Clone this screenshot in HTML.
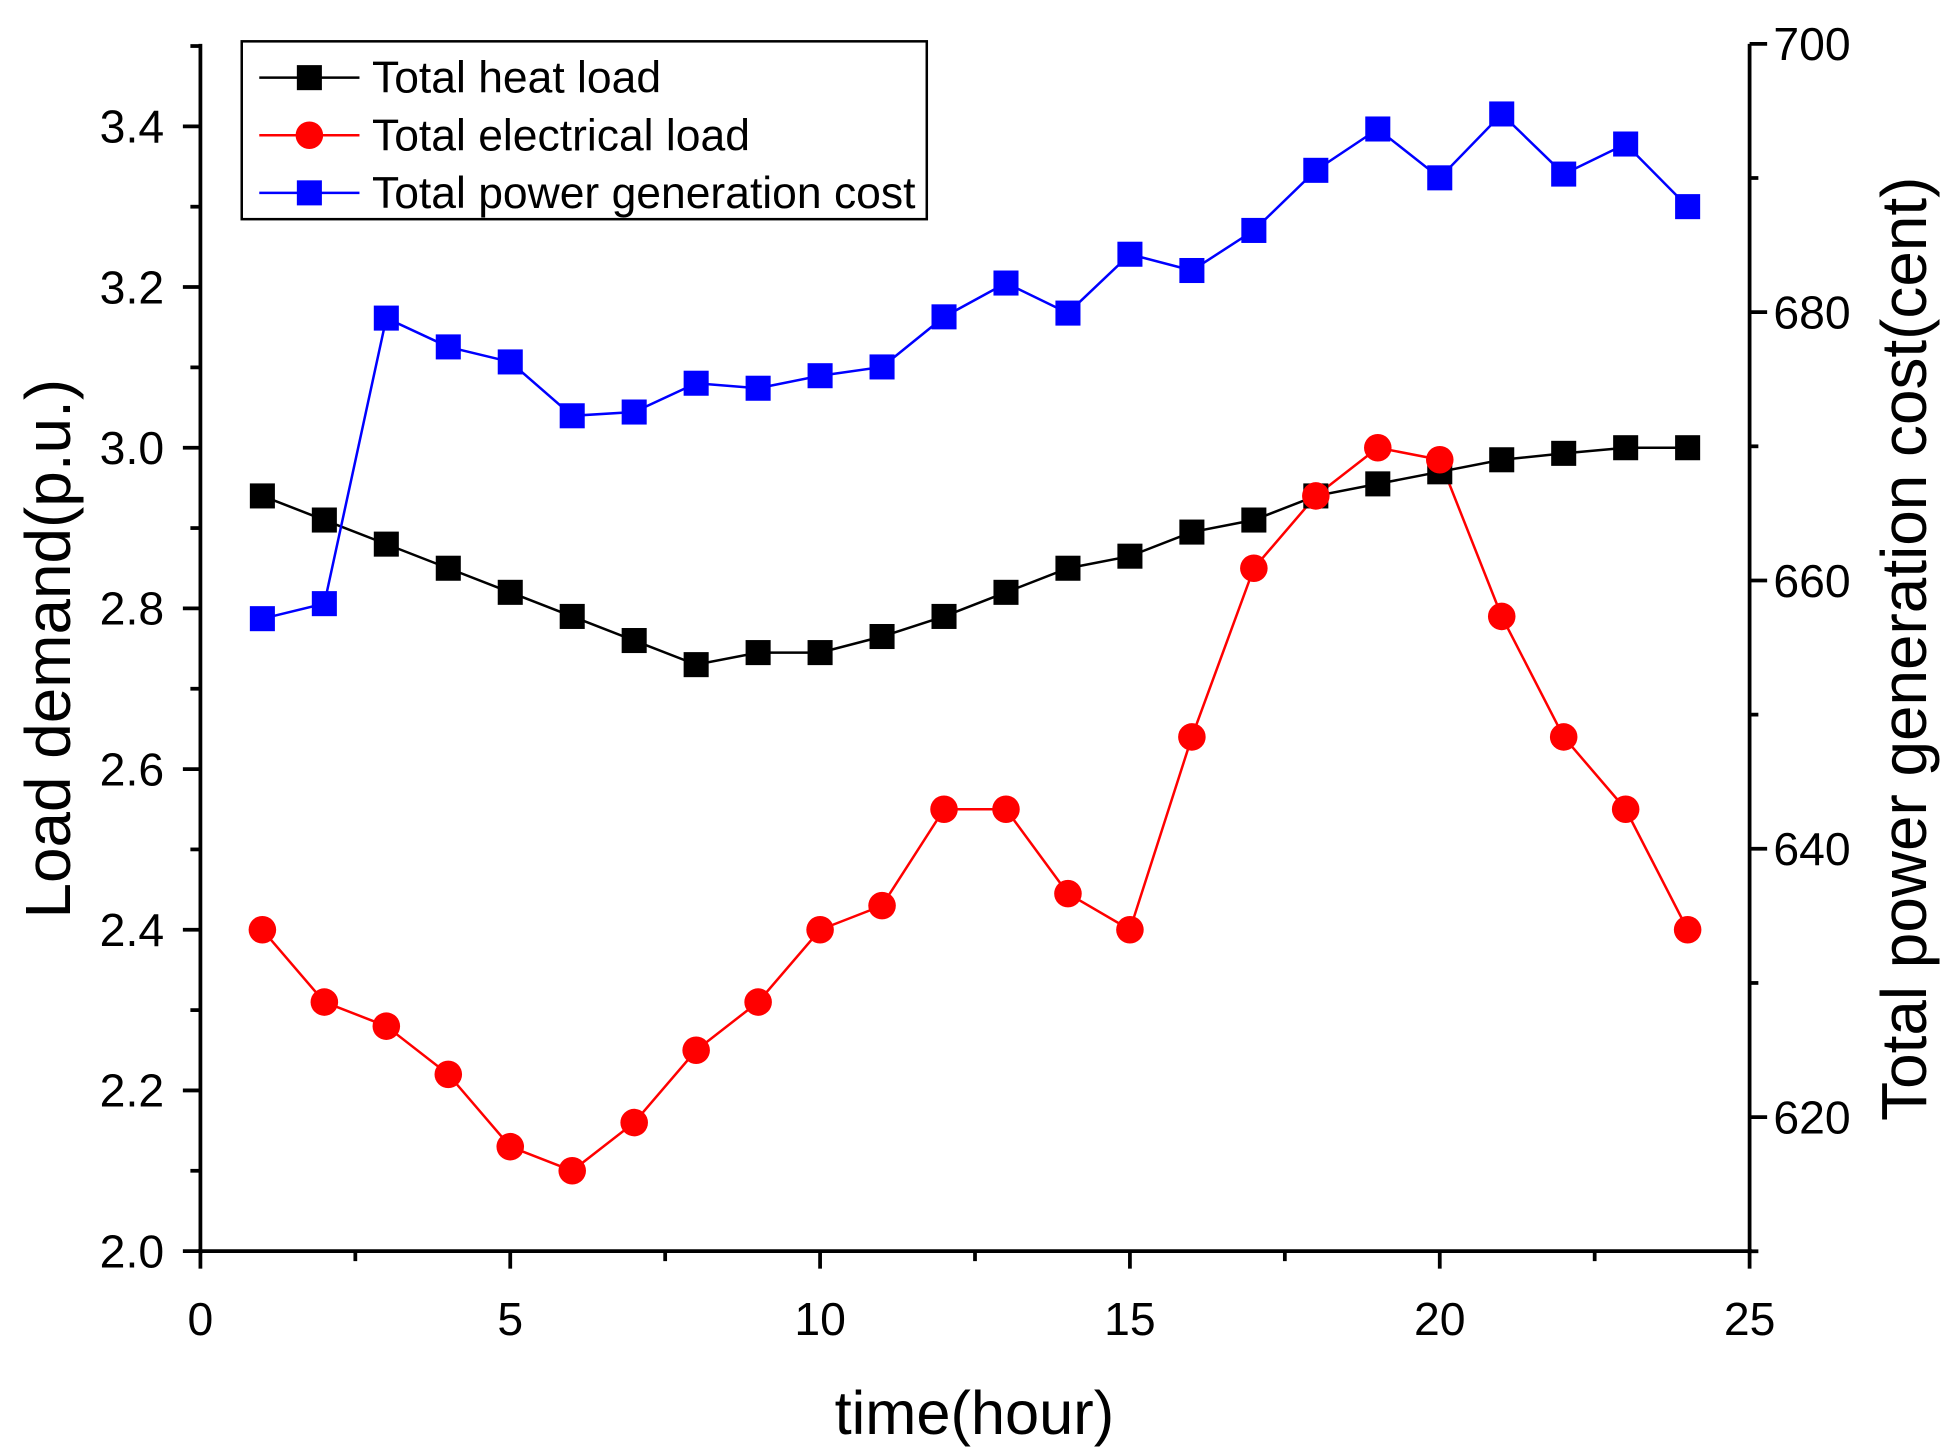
<!DOCTYPE html>
<html><head><meta charset="utf-8"><style>
html,body{margin:0;padding:0;background:#fff;}
svg{display:block;}
text{font-family:"Liberation Sans",Arial,sans-serif;fill:#000;}
</style></head><body>
<svg id="s" width="1945" height="1454" viewBox="0 0 1553 1161" xmlns="http://www.w3.org/2000/svg"></svg>
<script>
const s=document.getElementById('s');
let h='';
const X=v=>160+49.48*v, YL=v=>999-(v-2)*641.5;
h+=`<line x1="160" y1="35" x2="160" y2="1001" stroke="#000" stroke-width="3"/>`;
h+=`<line x1="1397" y1="35" x2="1397" y2="1001" stroke="#000" stroke-width="3"/>`;
h+=`<line x1="158" y1="999" x2="1399" y2="999" stroke="#000" stroke-width="3"/>`;
for(let i=0;i<=10;i++){const v=i*2.5,x=X(v),maj=i%2==0;
 h+=`<line x1="${x}" y1="999" x2="${x}" y2="${maj?1013:1007}" stroke="#000" stroke-width="3"/>`;
 if(maj)h+=`<text x="${x}" y="1066" font-size="37" text-anchor="middle">${v}</text>`;}
for(let i=0;i<=15;i++){const v=2+i*0.1,y=YL(v),maj=i%2==0;
 h+=`<line x1="160" y1="${y}" x2="${maj?146:152}" y2="${y}" stroke="#000" stroke-width="3"/>`;
 if(maj)h+=`<text x="131" y="${y+13}" font-size="37" text-anchor="end">${v.toFixed(1)}</text>`;}
const YR=v=>35+(700-v)*10.7125;
for(let i=0;i<=9;i++){const v=610+i*10,y=YR(v),maj=(v%20==0);
 h+=`<line x1="1397" y1="${y}" x2="${maj?1411:1404}" y2="${y}" stroke="#000" stroke-width="3"/>`;
 if(maj)h+=`<text x="1416" y="${y+13}" font-size="37">${v}</text>`;}
h+=`<text x="778" y="1145" font-size="49" text-anchor="middle">time(hour)</text>`;
h+=`<text transform="translate(56,518) rotate(-90)" font-size="51" text-anchor="middle">Load demand(p.u.)</text>`;
h+=`<text transform="translate(1538,518) rotate(-90)" font-size="51" text-anchor="middle">Total power generation cost(cent)</text>`;
const heat=[2.94,2.91,2.88,2.85,2.82,2.79,2.76,2.73,2.745,2.745,2.765,2.79,2.82,2.85,2.865,2.895,2.91,2.94,2.955,2.97,2.985,2.993,3.0,3.0];
const el=[2.40,2.31,2.28,2.22,2.13,2.10,2.16,2.25,2.31,2.40,2.43,2.55,2.55,2.445,2.40,2.64,2.85,2.94,3.00,2.985,2.79,2.64,2.55,2.40];
const cost=[494,482,254,277,289,332,329,306,310,300,293,253,226,250,203,216,184,136,103,142,91,139,115,165];
function line(pts,c){h+=`<polyline fill="none" stroke="${c}" stroke-width="2" points="${pts.map(p=>p.join(',')).join(' ')}"/>`;}
const hp=heat.map((v,i)=>[X(i+1),YL(v)]),ep=el.map((v,i)=>[X(i+1),YL(v)]),cp=cost.map((v,i)=>[X(i+1),v]);
line(hp,'#000');line(ep,'#f00');line(cp,'#00f');
hp.forEach(p=>h+=`<rect x="${p[0]-10}" y="${p[1]-10}" width="20" height="20" fill="#000"/>`);
ep.forEach(p=>h+=`<circle cx="${p[0]}" cy="${p[1]}" r="11" fill="#f00"/>`);
cp.forEach(p=>h+=`<rect x="${p[0]-10}" y="${p[1]-10}" width="20" height="20" fill="#00f"/>`);
h+=`<rect x="193" y="33" width="547" height="142" fill="#fff" stroke="#000" stroke-width="2"/>`;
[['#000','Total heat load',62,'s'],['#f00','Total electrical load',108,'c'],['#00f','Total power generation cost',154,'s']].forEach(([c,t,y,m])=>{
 h+=`<line x1="207" y1="${y}" x2="287" y2="${y}" stroke="${c}" stroke-width="2"/>`;
 h+=m=='s'?`<rect x="237" y="${y-10}" width="20" height="20" fill="${c}"/>`:`<circle cx="247" cy="${y}" r="11" fill="${c}"/>`;
 h+=`<text x="297" y="${y+12}" font-size="35.5">${t}</text>`;});
s.innerHTML=h;
</script>
</body></html>
